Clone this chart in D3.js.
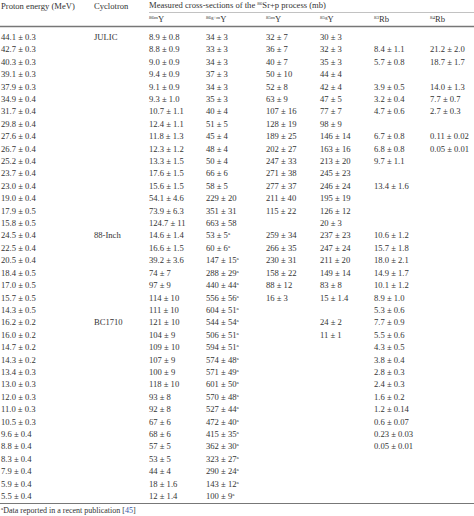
<!DOCTYPE html>
<html>
<head>
<meta charset="utf-8">
<script src="https://cdn.jsdelivr.net/npm/d3@7"></script>
<style>
  body { margin: 0; background: #fff; }
  text { font-family: "Liberation Serif", "DejaVu Serif", serif; fill: #333; }
</style>
</head>
<body>
<svg id="tbl" width="474" height="516"></svg>
<script>
// rows of the table, "^a" marks the footnote
var energies = ['44.1 ± 0.3','42.7 ± 0.3','40.3 ± 0.3','39.1 ± 0.3','37.9 ± 0.3','34.9 ± 0.4','31.7 ± 0.4','29.8 ± 0.4',
  '27.6 ± 0.4','26.7 ± 0.4','25.2 ± 0.4','23.7 ± 0.4','23.0 ± 0.4','19.0 ± 0.4','17.9 ± 0.5','15.8 ± 0.5',
  '24.5 ± 0.4','22.5 ± 0.4','20.5 ± 0.4','18.4 ± 0.5','17.0 ± 0.5','15.7 ± 0.5','14.3 ± 0.5',
  '16.2 ± 0.2','16.0 ± 0.2','14.7 ± 0.2','14.3 ± 0.2','13.4 ± 0.3','13.0 ± 0.3','12.0 ± 0.3','11.0 ± 0.3',
  '10.5 ± 0.3','9.6 ± 0.4','8.8 ± 0.4','8.3 ± 0.4','7.9 ± 0.4','5.9 ± 0.4','5.5 ± 0.4'];
var cyclotrons = [[0, 'JULIC'], [16, '88-Inch'], [23, 'BC1710']];
var y86m = ['8.9 ± 0.8','8.8 ± 0.9','9.0 ± 0.9','9.4 ± 0.9','9.1 ± 0.9','9.3 ± 1.0','10.7 ± 1.1','12.4 ± 1.1',
  '11.8 ± 1.3','12.3 ± 1.2','13.3 ± 1.5','17.6 ± 1.5','15.6 ± 1.5','54.1 ± 4.6','73.9 ± 6.3','124.7 ± 11',
  '14.6 ± 1.4','16.6 ± 1.5','39.2 ± 3.6','74 ± 7','97 ± 9','114 ± 10','111 ± 10',
  '121 ± 10','104 ± 9','109 ± 10','107 ± 9','100 ± 9','118 ± 10','93 ± 8','92 ± 8',
  '67 ± 6','68 ± 6','57 ± 5','53 ± 5','44 ± 4','18 ± 1.6','12 ± 1.4'];
var y86gm = ['34 ± 3','33 ± 3','34 ± 3','37 ± 3','34 ± 3','35 ± 3','40 ± 4','51 ± 5',
  '45 ± 4','48 ± 4','50 ± 4','66 ± 6','58 ± 5','229 ± 20','351 ± 31','663 ± 58',
  '53 ± 5^a','60 ± 6^a','147 ± 15^a','288 ± 29^a','440 ± 44^a','556 ± 56^a','604 ± 51^a',
  '544 ± 54^a','506 ± 51^a','594 ± 51^a','574 ± 48^a','571 ± 49^a','601 ± 50^a','570 ± 48^a','527 ± 44^a',
  '472 ± 40^a','415 ± 35^a','362 ± 30^a','323 ± 27^a','290 ± 24^a','143 ± 12^a','100 ± 9^a'];
var y85m = ['32 ± 7','36 ± 7','40 ± 7','50 ± 10','52 ± 8','63 ± 9','107 ± 16','128 ± 19',
  '189 ± 25','202 ± 27','247 ± 33','271 ± 38','277 ± 37','211 ± 40','115 ± 22','',
  '259 ± 34','266 ± 35','230 ± 31','158 ± 22','88 ± 12','16 ± 3','',
  '','','','','','','','','','','','','','',''];
var y85g = ['30 ± 3','32 ± 3','35 ± 3','44 ± 4','42 ± 4','47 ± 5','77 ± 7','98 ± 9',
  '146 ± 14','163 ± 16','213 ± 20','245 ± 23','246 ± 24','195 ± 19','126 ± 12','20 ± 3',
  '237 ± 23','247 ± 24','211 ± 20','149 ± 14','83 ± 8','15 ± 1.4','',
  '24 ± 2','11 ± 1','','','','','','','','','','','','',''];
var rb83 = ['','8.4 ± 1.1','5.7 ± 0.8','','3.9 ± 0.5','3.2 ± 0.4','4.7 ± 0.6','',
  '6.7 ± 0.8','6.8 ± 0.8','9.7 ± 1.1','','13.4 ± 1.6','','','',
  '10.6 ± 1.2','15.7 ± 1.8','18.0 ± 2.1','14.9 ± 1.7','10.1 ± 1.2','8.9 ± 1.0','5.3 ± 0.6',
  '7.7 ± 0.9','5.5 ± 0.6','4.3 ± 0.5','3.8 ± 0.4','2.8 ± 0.3','2.4 ± 0.3','1.6 ± 0.2','1.2 ± 0.14',
  '0.6 ± 0.07','0.23 ± 0.03','0.05 ± 0.01','','','',''];
var rb84 = ['','21.2 ± 2.0','18.7 ± 1.7','','14.0 ± 1.3','7.7 ± 0.7','2.7 ± 0.3','',
  '0.11 ± 0.02','0.05 ± 0.01','','','','','','',
  '','','','','','','',
  '','','','','','','','','','','','','','',''];
// header: [superscript, main]
var colHeads = [['86m', 'Y'], ['86g+m', 'Y'], ['85m', 'Y'], ['85g', 'Y'], ['83', 'Rb'], ['84', 'Rb']];

var svg = d3.select('#tbl');
var fs = 8.6;

var x = d3.scaleOrdinal()
  .domain(['energy', 'cyc', 0, 1, 2, 3, 4, 5])
  .range([1, 94, 149, 206, 266, 320, 374, 430]);

var y = d3.scalePoint()
  .domain(d3.range(energies.length))
  .range([37, 496]);

// header
var head = svg.append('g');
head.append('text').attr('x', x('energy')).attr('y', 9).attr('font-size', fs).text('Proton energy (MeV)');
head.append('text').attr('x', x('cyc')).attr('y', 9).attr('font-size', fs).text('Cyclotron');
var title = head.append('text').attr('x', x(0)).attr('y', 8).attr('font-size', fs);
title.append('tspan').text('Measured cross-sections of the ');
title.append('tspan').attr('font-size', 5).attr('dy', -3).text('86');
title.append('tspan').attr('dy', 3).text('Sr+p process (mb)');
head.append('line').attr('x1', x(0)).attr('x2', 474).attr('y1', 12.5).attr('y2', 12.5)
  .attr('stroke', '#999').attr('stroke-width', 0.6);

colHeads.forEach(function(h, i) {
  var t = head.append('text').attr('x', x(i)).attr('y', 22).attr('font-size', fs);
  t.append('tspan').attr('font-size', 5).attr('dy', -3).text(h[0]);
  t.append('tspan').attr('dy', 3).text(h[1]);
});

svg.append('line').attr('x1', 0).attr('x2', 474).attr('y1', 26.5).attr('y2', 26.5)
  .attr('stroke', '#777').attr('stroke-width', 1.6);

// body
var body = svg.append('g').attr('font-size', fs);
function cell(xx, yy, s) {
  if (!s) return;
  var t = body.append('text').attr('x', xx).attr('y', yy + 3);
  var parts = s.split('^');
  t.append('tspan').text(parts[0]);
  if (parts[1]) t.append('tspan').attr('font-size', 5).attr('dy', -3).text(parts[1]);
}

energies.forEach(function(e, i) {
  cell(x('energy'), y(i), e);
  [y86m, y86gm, y85m, y85g, rb83, rb84].forEach(function(col, c) {
    cell(x(c), y(i), col[i]);
  });
});
cyclotrons.forEach(function(c) { cell(x('cyc'), y(c[0]), c[1]); });

svg.append('line').attr('x1', 0).attr('x2', 474).attr('y1', 503.5).attr('y2', 503.5)
  .attr('stroke', '#777').attr('stroke-width', 1);

var foot = svg.append('text').attr('x', 1).attr('y', 513).attr('font-size', 8);
foot.append('tspan').attr('font-size', 5).attr('dy', -3).text('a');
foot.append('tspan').attr('dy', 3).text('Data reported in a recent publication [');
foot.append('tspan').style('fill', '#3355aa').text('45');
foot.append('tspan').text(']');
</script>
</body>
</html>
